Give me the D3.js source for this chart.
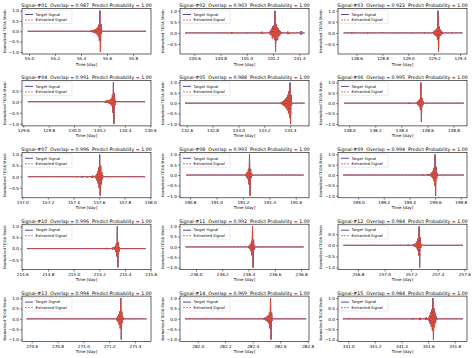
<!DOCTYPE html>
<html><head><meta charset="utf-8">
<script src="https://cdn.jsdelivr.net/npm/d3@7"></script>
<style>
body{margin:0;background:#fff}
svg{display:block}
text{font-family:"DejaVu Sans",sans-serif;fill:#000}
</style>
</head><body>
<svg id="chart" width="474" height="358"></svg>
<script>
// ---------------- data ----------------
const signalNo = ["01","02","03","04","05","06","07","08","09","10","11","12","13","14","15"];
const overlap = [0.987,0.903,0.922,0.991,0.988,0.995,0.996,0.993,0.994,0.996,0.992,0.984,0.994,0.969,0.984];
const probability = [1.00,1.00,1.00,1.00,1.00,1.00,1.00,1.00,1.00,1.00,1.00,1.00,1.00,1.00,1.00];
const timeStart = [54.99,100.53,128.50,129.636,132.587,137.96,157.044,190.77,198.884,214.636,235.92,256.69,270.56,281.908,340.96];
const timeEnd = [55.90,101.44,129.42,130.56,133.514,138.88,157.96,191.66,199.826,215.56,236.82,257.59,271.49,282.79,341.862];
const mergerTime = [55.545,101.215,129.23,130.31,133.40,138.55,157.605,191.25,199.60,215.34,236.43,257.26,271.29,282.53,341.636];
const sampleStep = [0.004,0.004,0.004,0.004,0.004,0.004,0.004,0.004,0.004,0.004,0.004,0.004,0.004,0.004,0.004];
const burstPeakIndex = [18,10,10,20,18,8,8,8,10,6,8,12,8,14,8];
const xLimits = [[54.946,55.938],[100.491,101.474],[128.457,129.454],[129.59,130.606],[132.548,133.547],[137.914,138.904],[156.998,158.006],[190.724,191.70],[198.843,199.849],[214.598,215.602],[235.878,236.86],[256.65,257.62],[270.525,271.524],[281.871,282.81],[340.923,341.892]];
const yLimits = [[-1.1,1.1],[-0.95,1.1],[-0.95,1.1],[-1.1,0.97],[-1.1,1.1],[-1.1,1.1],[-0.95,1.1],[-1.1,1.1],[-1.1,1.1],[-0.95,1.1],[-1.1,1.1],[-1.1,0.95],[-1.1,1.1],[-1.1,1.1],[-1.1,1.1]];
const xTickValues = [
  [55.0,55.2,55.4,55.6,55.8],
  [100.6,100.8,101.0,101.2,101.4],
  [128.6,128.8,129.0,129.2,129.4],
  [129.6,129.8,130.0,130.2,130.4,130.6],
  [132.6,132.8,133.0,133.2,133.4],
  [138.0,138.2,138.4,138.6,138.8],
  [157.0,157.2,157.4,157.6,157.8,158.0],
  [190.8,191.0,191.2,191.4,191.6],
  [199.0,199.2,199.4,199.6,199.8],
  [214.6,214.8,215.0,215.2,215.4,215.6],
  [236.0,236.2,236.4,236.6,236.8],
  [256.8,257.0,257.2,257.4,257.6],
  [270.6,270.8,271.0,271.2,271.4],
  [282.0,282.2,282.4,282.6,282.8],
  [341.0,341.2,341.4,341.6,341.8]
];
const yTickValues = [-1.0,-0.5,0.0,0.5,1.0];

const targetBurst = [
  [.02,-.03,.03,-.04,.05,-.05,.06,-.07,.08,-.09,.1,-.12,.14,-.17,.2,-.25,.32,-.45,1,-1,.35,-.1,.03,0],
  [.05,-.08,.12,-.1,.2,-.25,.3,-.22,.35,-.3,1,-.85,.4,-.35,.25,-.3,.2,-.15,.12,-.1,.08,-.05,.03,0],
  [.03,-.05,.06,-.08,.1,-.12,.15,-.18,.2,-.3,1,-.85,.3,-.2,.15,-.12,.1,-.08,.05,-.03,0],
  [.01,-.02,.02,-.03,.03,-.04,.04,-.05,.05,-.06,.06,-.07,.08,-.09,.1,-.12,.15,-.2,.3,-.5,.88,-1,.4,-.15,.05,0],
  [.03,-.04,.05,-.07,.08,-.1,.12,-.14,.16,-.19,.22,-.26,.3,-.35,.4,-.48,.58,-.7,1,-1,.4,-.1,0],
  [.03,-.05,.07,-.1,.12,-.15,.2,-.3,1,-.9,.25,-.15,.1,-.06,.03,0],
  [.05,-.08,.12,-.18,.25,-.3,.4,-.5,1,-.85,.5,-.35,.2,-.12,.06,-.03,0],
  [.03,-.05,.08,-.12,.15,-.2,.3,-.45,1,-1,.3,-.15,.08,-.04,0],
  [.04,-.05,.07,-.09,.12,-.15,.2,-.26,.35,-.5,1,-1,.4,-.2,.1,-.05,0],
  [.04,-.06,.1,-.15,.22,-.35,1,-.85,.3,-.15,.06,-.03,0],
  [.03,-.05,.07,-.1,.14,-.2,.28,-.4,1,-1,.35,-.15,.06,-.02,0],
  [.02,-.03,.04,-.05,.06,-.08,.1,-.13,.17,-.22,.3,-.45,.85,-1,.35,-.12,.04,0],
  [.05,-.08,.12,-.16,.22,-.28,.35,-.45,1,-1,.35,-.2,.1,-.05,0],
  [.02,-.03,.04,-.05,.06,-.07,.08,-.1,.12,-.15,.18,-.22,.3,-.45,1,-1,.3,-.1,.03,0],
  [.08,-.12,.18,-.25,.3,-.38,.45,-.55,1,-1,.5,-.4,.3,-.2,.12,-.06,0]
];
const extractedBurst = [
  [.02,-.02,.04,-.04,.05,-.06,.06,-.06,.08,-.1,.11,-.12,.15,-.18,.21,-.26,.33,-.47,.98,-.98,.33,-.1,.02,0],
  [.06,-.07,.13,-.12,.18,-.26,.28,-.24,.36,-.32,.97,-.84,.42,-.33,.27,-.28,.19,-.16,.1,-.11,.07,-.05,.02,0],
  [.04,-.04,.07,-.08,.11,-.13,.14,-.19,.22,-.32,.98,-.86,.31,-.21,.14,-.13,.09,-.07,.05,-.02,0],
  [.01,-.01,.02,-.03,.04,-.04,.05,-.05,.06,-.06,.07,-.07,.08,-.1,.11,-.13,.16,-.21,.32,-.52,.86,-.98,.38,-.14,.04,0],
  [.03,-.05,.06,-.07,.09,-.1,.13,-.15,.17,-.2,.23,-.27,.31,-.37,.42,-.5,.6,-.72,.97,-.98,.38,-.1,0],
  [.03,-.04,.08,-.1,.13,-.16,.21,-.32,.98,-.88,.24,-.14,.09,-.06,.03,0],
  [.06,-.08,.13,-.17,.26,-.32,.42,-.52,.97,-.84,.48,-.34,.21,-.11,.05,-.02,0],
  [.03,-.05,.08,-.11,.16,-.21,.31,-.46,.97,-.98,.28,-.14,.07,-.03,0],
  [.04,-.06,.07,-.1,.13,-.15,.21,-.27,.36,-.52,.98,-.97,.38,-.19,.1,-.04,0],
  [.04,-.06,.11,-.14,.23,-.36,.97,-.84,.28,-.14,.05,-.02,0],
  [.03,-.06,.07,-.11,.15,-.21,.29,-.42,.98,-.97,.33,-.14,.05,-.02,0],
  [.02,-.03,.05,-.05,.07,-.08,.11,-.14,.18,-.23,.32,-.47,.83,-.98,.33,-.11,.03,0],
  [.06,-.08,.13,-.17,.23,-.29,.36,-.47,.98,-.97,.33,-.19,.09,-.04,0],
  [.02,-.03,.05,-.05,.06,-.08,.09,-.11,.13,-.16,.19,-.23,.32,-.47,.97,-.97,.28,-.1,.02,0],
  [.09,-.13,.19,-.26,.32,-.4,.47,-.57,.97,-.98,.48,-.41,.28,-.21,.11,-.05,0]
];
// small oscillation features away from the merger: [start time, samples]
const targetWiggles = [
  [],
  [[100.88,[.03,-.04,.03,-.02]],[101.0,[.02,-.03,.02]],[101.11,[.04,-.05,.05,-.03]],[101.31,[.05,-.06,.04,-.03]],[101.41,[.06,-.08,.07,-.05]]],
  [[128.56,[.03,-.03,.02]],[128.68,[.02,-.03,.02]],[128.8,[.03,-.02,.03]],[128.92,[.02,-.03,.02]],[129.02,[.03,-.03]],[129.12,[.03,-.04,.03]],[129.33,[.03,-.03,.02]]],
  [],
  [],
  [[138.45,[.02,-.02,.03,-.03,.02]]],
  [[157.42,[.02,-.02,.02,-.02]],[157.46,[.02,-.03,.03,-.02]],[157.5,[.03,-.03,.03,-.03]],[157.54,[.03,-.04,.04,-.04,.04]]],
  [],
  [[199.46,[.02,-.02,.02]],[199.5,[.02,-.03,.02,-.02]],[199.54,[.03,-.03,.03,-.03]]],
  [[215.25,[.02,-.03,.03,-.02]],[215.3,[.04,-.05,.05]]],
  [],
  [[257.12,[.02,-.02,.02,-.02]],[257.17,[.02,-.03,.03,-.02]]],
  [],
  [],
  [[341.0,[.02,-.03,.02]],[341.48,[.02,-.03,.03,-.02]],[341.53,[.04,-.05,.05,-.04]],[341.58,[.05,-.06,.06,-.05]]]
];
const extractedWiggles = [
  [],
  [[100.88,[.03,-.03,.03,-.02]],[101.0,[.03,-.03,.02]],[101.11,[.05,-.05,.04,-.03]],[101.31,[.05,-.05,.05,-.03]],[101.41,[.07,-.08,.06,-.05]]],
  [[128.56,[.02,-.03,.02]],[128.68,[.03,-.03,.02]],[128.8,[.02,-.03,.03]],[128.92,[.03,-.03,.02]],[129.02,[.02,-.03]],[129.12,[.04,-.04,.03]],[129.33,[.03,-.02,.02]]],
  [],
  [],
  [[138.45,[.02,-.03,.03,-.02,.02]]],
  [[157.42,[.02,-.02,.02,-.01]],[157.46,[.02,-.03,.02,-.02]],[157.5,[.03,-.03,.03,-.02]],[157.54,[.03,-.04,.04,-.03,.04]]],
  [],
  [[199.46,[.02,-.02,.01]],[199.5,[.02,-.02,.02,-.02]],[199.54,[.03,-.03,.02,-.03]]],
  [[215.25,[.02,-.02,.03,-.02]],[215.3,[.04,-.04,.05]]],
  [],
  [[257.12,[.02,-.02,.01,-.02]],[257.17,[.02,-.02,.03,-.02]]],
  [],
  [],
  [[341.0,[.02,-.02,.02]],[341.48,[.02,-.02,.03,-.02]],[341.53,[.04,-.04,.05,-.04]],[341.58,[.05,-.05,.06,-.05]]]
];
const legendLabels = ["Target Signal","Extracted Signal"];

// ---------------- layout / style ----------------
const targetColor = "#1f1f8c";
const extractedColor = "#f0522c";
const colLeft = [22,180,338];
const rowTop0 = 8.5, rowPitch = 71.9;
const W = 129, H = 45.5;
const svg = d3.select("#chart");

function seriesPoints(i, burst, wiggles){
  const step = sampleStep[i];
  const pts = [[timeStart[i],0]];
  wiggles.forEach(([t0,vals])=>{
    pts.push([t0-step,0]);
    vals.forEach((v,k)=>pts.push([t0+k*step,v]));
    pts.push([t0+vals.length*step,0]);
  });
  const b0 = mergerTime[i]-burstPeakIndex[i]*step;
  pts.push([b0-step,0]);
  burst.forEach((v,k)=>pts.push([b0+k*step,v]));
  pts.push([timeEnd[i],0]);
  pts.sort((a,b)=>a[0]-b[0]);
  return pts;
}

const fmt = d3.format(".1f");

signalNo.forEach((id,i)=>{
  const col = i%3, row = Math.floor(i/3);
  const x0 = colLeft[col], y0 = rowTop0 + row*rowPitch;
  const g = svg.append("g").attr("transform",`translate(${x0},${y0})`);
  const x = d3.scaleLinear().domain(xLimits[i]).range([0,W]);
  const y = d3.scaleLinear().domain(yLimits[i]).range([H,0]);

  g.append("clipPath").attr("id","clip"+i).append("rect").attr("width",W).attr("height",H);

  const line = d3.line().x(d=>x(d[0])).y(d=>y(d[1]));
  const plot = g.append("g").attr("clip-path",`url(#clip${i})`);
  plot.append("path").datum(seriesPoints(i,targetBurst[i],targetWiggles[i]))
    .attr("d",line).attr("fill","none").attr("stroke",targetColor).attr("stroke-width",0.9);
  plot.append("path").datum(seriesPoints(i,extractedBurst[i],extractedWiggles[i]))
    .attr("d",line).attr("fill","none").attr("stroke",extractedColor).attr("stroke-width",0.9)
    .attr("stroke-dasharray","2.6,0.8");

  // axes
  const xa = g.append("g").attr("transform",`translate(0,${H})`)
    .call(d3.axisBottom(x).tickValues(xTickValues[i]).tickFormat(fmt).tickSize(1.8).tickPadding(1.2));
  const yt = yTickValues.filter(v=>v>=yLimits[i][0] && v<=yLimits[i][1]);
  const ya = g.append("g")
    .call(d3.axisLeft(y).tickValues(yt).tickFormat(fmt).tickSize(1.8).tickPadding(1.2));
  [xa,ya].forEach(a=>{
    a.select(".domain").remove();
    a.selectAll(".tick line").attr("stroke","#000").attr("stroke-width",0.5);
    a.selectAll(".tick text").attr("font-size",4.2).attr("font-family","DejaVu Sans");
  });

  g.append("rect").attr("width",W).attr("height",H).attr("fill","none")
    .attr("stroke","#000").attr("stroke-width",0.6);

  // legend
  const lg = g.append("g").attr("transform","translate(1,1.5)");
  lg.append("rect").attr("width",49).attr("height",13.5).attr("rx",1)
    .attr("fill","#fff").attr("fill-opacity",0.8).attr("stroke","#cccccc").attr("stroke-width",0.4);
  [0,1].forEach(k=>{
    const ly = 4.5 + k*5.5;
    lg.append("line").attr("x1",2).attr("x2",10).attr("y1",ly).attr("y2",ly)
      .attr("stroke",k===0?targetColor:extractedColor).attr("stroke-width",0.8)
      .attr("stroke-dasharray",k===0?null:"2,1");
    lg.append("text").attr("x",12.5).attr("y",ly+1.3).attr("font-size",3.8).text(legendLabels[k]);
  });

  // title and labels
  g.append("text").attr("x",W/2).attr("y",-1.2).attr("text-anchor","middle")
    .attr("font-size",4.7).style("white-space","pre")
    .text(`Signal-#${id}  Overlap = ${overlap[i].toFixed(3)}  Predict Probability = ${probability[i].toFixed(2)}`);
  g.append("text").attr("x",W/2).attr("y",H+11.6).attr("text-anchor","middle")
    .attr("font-size",4.0).text("Time [day]");
  g.append("text").attr("transform",`translate(${-16.5},${H/2}) rotate(-90)`)
    .attr("text-anchor","middle").attr("font-size",3.6).text("Normalized TDOA Strain");
});
</script>
</body></html>
